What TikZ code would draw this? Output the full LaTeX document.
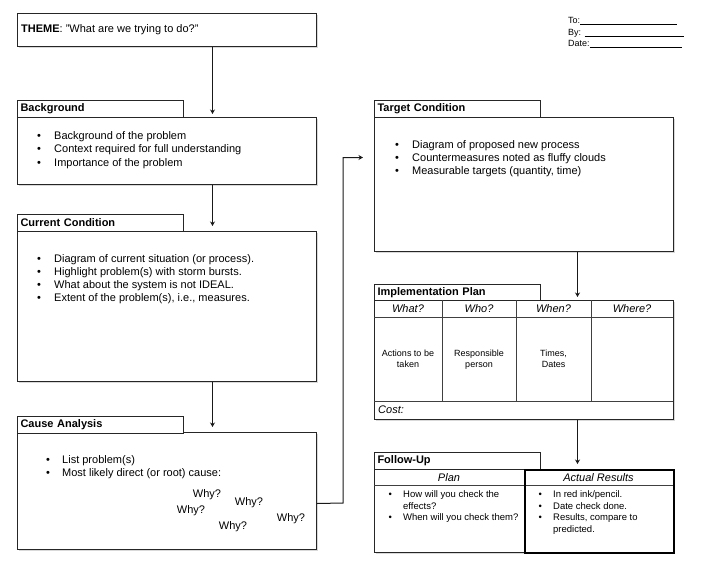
\documentclass[tikz,border=0pt]{standalone}
\usepackage{fontspec}
\setmainfont{Liberation Sans}
\usetikzlibrary{arrows.meta,shadows}
\begin{document}
\begin{tikzpicture}[x=1pt,y=-1pt,
  font=\fontsize{11}{13.5}\selectfont,
  box/.style={draw=black!85, line width=1pt, fill=white, inner sep=0pt, anchor=north west,
     drop shadow={shadow xshift=1pt, shadow yshift=-1.2pt, fill=black!25, opacity=0.6}},
  hdr/.style={draw=black!85, line width=1pt, fill=white, anchor=north west, inner xsep=3pt, inner ysep=0pt,
     text width=160pt, align=left, minimum height=17pt, font=\fontsize{11}{13.5}\selectfont\bfseries},
  lst/.style={anchor=north west, inner sep=0pt},
  small/.style={font=\fontsize{9}{11}\selectfont},
  cell/.style={anchor=base, inner sep=0pt, font=\fontsize{9}{11}\selectfont},
  smalllst/.style={anchor=north west, inner sep=0pt, font=\fontsize{9.5}{11.5}\selectfont},
  arr/.style={draw=black!90, line width=1pt, -{Stealth[length=4.5pt,width=5pt]}},
  grid/.style={draw=black!75, line width=0.8pt},
  why/.style={inner sep=0pt}
]
\useasboundingbox (0,0) rectangle (720,570);

% To / By / Date
\node[small, anchor=base west, inner sep=0pt] (to) at (568,23.3) {To:\rule[-1pt]{97pt}{0.4pt}};
\node[small, anchor=base west, inner sep=0pt] (by) at (568,35.3) {By: \rule[-1pt]{99pt}{0.4pt}};
\node[small, anchor=base west, inner sep=0pt] (date) at (568,46.6) {Date:\rule[-1pt]{92pt}{0.4pt}};

% THEME
\node[box, minimum width=299pt, minimum height=33pt] (theme) at (17,13) {};
\node[anchor=west, inner sep=0pt] (themet) at (21,29.5) {\textbf{THEME}: "What are we trying to do?"};

% Background
\node[box, minimum width=299pt, minimum height=67pt] (bgb) at (17,117) {};
\node[hdr] (bgh) at (17,100) {Background};
\node[lst] (bgl) at (37,129.5) {\begin{tabular}{@{}l@{}l@{}}
\makebox[17pt][l]{\textbullet} & Background of the problem\\
\makebox[17pt][l]{\textbullet} & Context required for full understanding\\
\makebox[17pt][l]{\textbullet} & Importance of the problem
\end{tabular}};

% Current Condition
\node[box, minimum width=299pt, minimum height=150pt] (ccb) at (17,231) {};
\node[hdr] (cch) at (17,214) {Current Condition};
\node[lst] (ccl) at (37,252.5) {\renewcommand{\arraystretch}{0.985}\begin{tabular}{@{}l@{}l@{}}
\makebox[17pt][l]{\textbullet} & Diagram of current situation (or process).\\
\makebox[17pt][l]{\textbullet} & Highlight problem(s) with storm bursts.\\
\makebox[17pt][l]{\textbullet} & What about the system is not IDEAL.\\
\makebox[17pt][l]{\textbullet} & Extent of the problem(s), i.e., measures.
\end{tabular}};

% Cause Analysis
\node[box, minimum width=299pt, minimum height=117pt] (cab) at (17,432) {};
\node[hdr] (cah) at (17,416) {Cause Analysis};
\node[lst] (cal) at (46,454.5) {\renewcommand{\arraystretch}{0.963}\begin{tabular}{@{}l@{}l@{}}
\makebox[16pt][l]{\textbullet} & List problem(s)\\
\makebox[16pt][l]{\textbullet} & Most likely direct (or root) cause:
\end{tabular}};
\node[why] (w1) at (207,495) {Why?};
\node[why] (w2) at (249,503) {Why?};
\node[why] (w3) at (191,511) {Why?};
\node[why] (w4) at (291,519) {Why?};
\node[why] (w5) at (233,527) {Why?};

% Target Condition
\node[box, minimum width=299pt, minimum height=134pt] (tgb) at (374,117) {};
\node[hdr] (tgh) at (374,100) {Target Condition};
\node[lst] (tgl) at (395,138.5) {\renewcommand{\arraystretch}{0.985}\begin{tabular}{@{}l@{}l@{}}
\makebox[17pt][l]{\textbullet} & Diagram of proposed new process\\
\makebox[17pt][l]{\textbullet} & Countermeasures noted as fluffy clouds\\
\makebox[17pt][l]{\textbullet} & Measurable targets (quantity, time)
\end{tabular}};

% Implementation Plan
\node[box, minimum width=299pt, minimum height=119pt] (ipt) at (374,300) {};
\node[hdr, minimum height=16pt] (iph) at (374,284) {Implementation Plan};
\draw[grid] (374,317) -- (673,317);
\draw[grid] (374,401) -- (673,401);
\draw[grid] (442,300) -- (442,401);
\draw[grid] (516,300) -- (516,401);
\draw[grid] (591,300) -- (591,401);
\node[anchor=base, inner sep=0pt] (what) at (408,312) {\itshape What?};
\node[anchor=base, inner sep=0pt] (who) at (479,312) {\itshape Who?};
\node[anchor=base, inner sep=0pt] (when) at (553.5,312) {\itshape When?};
\node[anchor=base, inner sep=0pt] (where) at (632,312) {\itshape Where?};
\node[cell] (act) at (408,356.3) {\begin{tabular}[t]{@{}c@{}}Actions to be\\taken\end{tabular}};
\node[cell] (resp) at (479,356.3) {\begin{tabular}[t]{@{}c@{}}Responsible\\person\end{tabular}};
\node[cell] (times) at (553.5,356.3) {\begin{tabular}[t]{@{}c@{}}Times,\\Dates\end{tabular}};
\node[anchor=base west, inner sep=0pt] (cost) at (378,413) {\itshape Cost:};

% Follow-Up
\node[box, minimum width=299pt, minimum height=83pt] (fub) at (374,469) {};
\node[hdr] (fuh) at (374,452) {Follow-Up};
\draw[grid] (374,485) -- (673,485);
\node[draw=black, line width=2pt, inner sep=0pt, anchor=north west, minimum width=149pt, minimum height=83pt] (arb) at (524,469) {};
\node[anchor=base, inner sep=0pt] (plan) at (449,481) {\itshape Plan};
\node[anchor=base, inner sep=0pt] (actual) at (598.5,481) {\itshape Actual Results};
\node[smalllst] (pll) at (388.3,489.5) {\begin{tabular}{@{}l@{}l@{}}
\makebox[14.7pt][l]{\textbullet} & How will you check the\\
 & effects?\\
\makebox[14.7pt][l]{\textbullet} & When will you check them?
\end{tabular}};
\node[smalllst] (arl) at (538.3,489.5) {\begin{tabular}{@{}l@{}l@{}}
\makebox[14.7pt][l]{\textbullet} & In red ink/pencil.\\
\makebox[14.7pt][l]{\textbullet} & Date check done.\\
\makebox[14.7pt][l]{\textbullet} & Results, compare to\\
 & predicted.
\end{tabular}};

% Connectors
\draw[arr, shorten >=3pt] ([xshift=45.5pt]theme.south) -- ([xshift=45.5pt]bgb.north);
\draw[arr, shorten >=5pt] ([xshift=45.5pt]bgb.south) -- ([xshift=45.5pt]ccb.north);
\draw[arr, shorten >=5pt] ([xshift=45.5pt]ccb.south) -- ([xshift=45.5pt]cab.north);
\draw[arr, shorten >=3pt] ([xshift=53.5pt]tgb.south) -- ([xshift=53.5pt]ipt.north);
\draw[arr, shorten >=5pt] ([xshift=53.5pt]ipt.south) -- ([xshift=53.5pt]fub.north);
\coordinate (bend) at (343,503);
\draw[arr, shorten >=11pt] ([yshift=-12.5pt]cab.east) -- (bend) |- ([yshift=27pt]tgb.west);
\end{tikzpicture}
\end{document}
